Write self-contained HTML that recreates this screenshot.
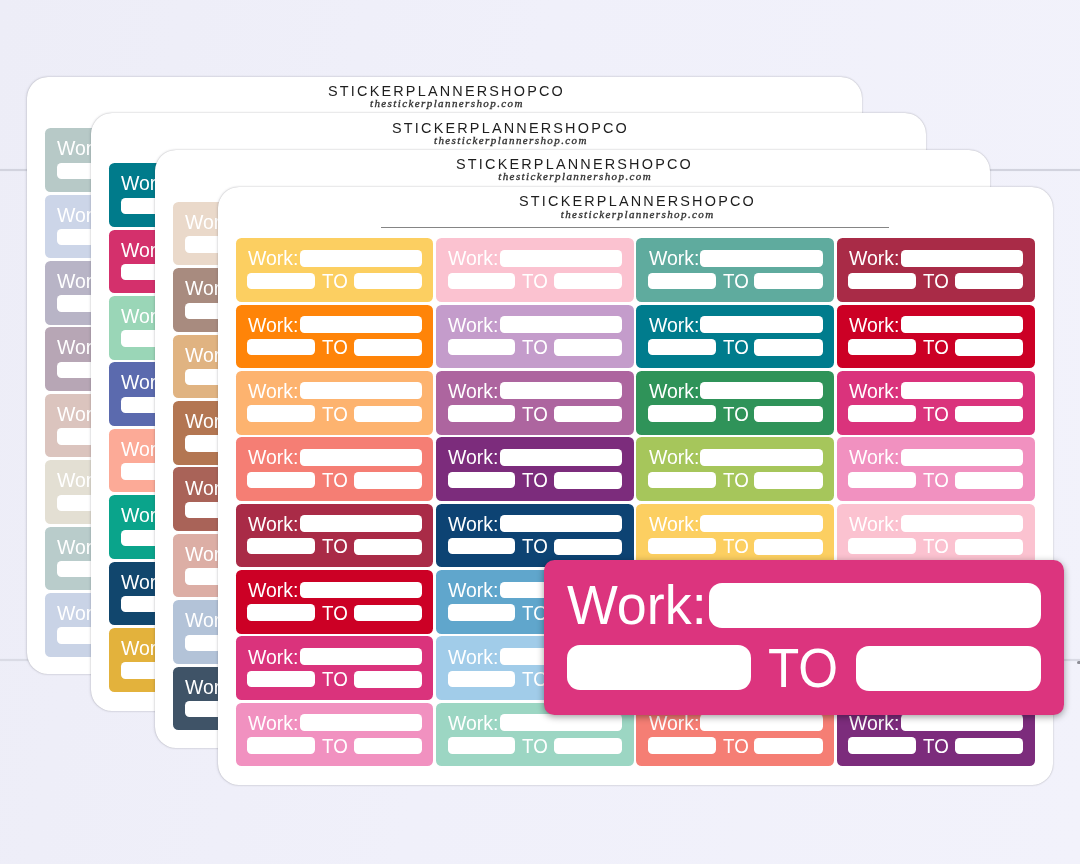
<!DOCTYPE html>
<html lang="en">
<head>
<meta charset="utf-8">
<title>Work Hours Planner Stickers - StickerPlannerShopCo</title>
<meta name="viewport" content="width=1080">
<style>
*{box-sizing:border-box;margin:0;padding:0}
html,body{width:1080px;height:864px;overflow:hidden;background:#f0f0fa}
body{font-family:"Liberation Sans",sans-serif}
.scene{position:relative;width:1080px;height:864px;overflow:hidden;background:linear-gradient(100deg,#ededf7 0%,#f0f0fa 45%,#f2f2fb 100%)}
.plank{position:absolute;left:0;width:1080px;height:2px;background:#d2d3de;box-shadow:0 0 1px #d8d9e3}
.p1{top:169px}.p2{top:659.3px;height:1.6px;background:#dadbe5}
.knot{position:absolute;left:1076.5px;top:661.3px;width:4px;height:3px;border-radius:1.5px 0 0 1.5px;background:#8d8d96;filter:blur(.6px)}
.sheet{position:absolute;width:835px;height:597.7px;border-radius:21px;background:#fff;
  box-shadow:0 0 1.5px rgba(70,70,78,.45), -1px 0 3px rgba(60,60,80,.07)}
.sheet header{position:absolute;left:0;top:0;width:100%;height:50px}
.sheet h1{position:absolute;left:2px;width:100%;top:5.3px;text-align:center;font-weight:400;
  font-size:15.2px;line-height:18px;letter-spacing:2.3px;color:#1e1e1e;transform:scaleX(.95);white-space:nowrap}
.sheet p{position:absolute;left:2.6px;width:100%;top:20.6px;text-align:center;
  font-family:"Liberation Serif",serif;font-style:italic;font-weight:400;-webkit-text-stroke:.35px #333;
  font-size:11px;line-height:12px;letter-spacing:1.4px;color:#333;white-space:nowrap}
.sheet hr{position:absolute;left:163.5px;width:507.5px;top:39.5px;height:1.2px;border:0;background:#858585}
.grid{position:absolute;left:0;top:0}
.st{position:absolute;width:197.8px;height:63.6px;border-radius:5.5px;color:#fff;background:var(--c)}
.st span{position:absolute;white-space:nowrap;line-height:24px;transform-origin:0 50%}
.st .w{left:12.2px;top:8.1px;font-size:20.3px;transform:scaleX(.96)}
.st .t{left:86.5px;top:30.7px;font-size:20.2px;transform:scaleX(.93)}
.st i{position:absolute;background:#fff;border-radius:4.5px;display:block}
.st .b1{left:64.1px;top:11.5px;width:122.1px;height:16.9px}
.st .b2{left:11.6px;top:34.4px;width:67.8px;height:16.4px}
.st .b3{left:118px;top:34.8px;width:68.2px;height:16.4px}
.zoom{position:absolute;left:544.2px;top:560px;width:520px;height:155.2px;border-radius:10.5px;background:#dc347e;color:#fff;
  box-shadow:0 2px 7px rgba(0,0,0,.38)}
.zoom span{position:absolute;white-space:nowrap;line-height:60px;transform-origin:0 50%}
.zoom .w{left:22.9px;top:14.7px;font-size:55.4px;transform:scaleX(.972)}
.zoom .t{left:224.3px;top:77.5px;font-size:55px;transform:scaleX(.93)}
.zoom i{position:absolute;background:#fff;border-radius:13px;display:block}
.zoom .b1{left:164.6px;top:22.8px;width:331.8px;height:45px}
.zoom .b2{left:22.4px;top:84.9px;width:184px;height:45.2px}
.zoom .b3{left:311.6px;top:86.3px;width:184.8px;height:45.2px}

</style>
</head>
<body>
<main class="scene">
<div class="plank p1"></div><div class="plank p2"></div><div class="knot"></div>
<section class="sheet s1" style="left:26.80px;top:76.70px">
<header><h1>STICKERPLANNERSHOPCO</h1><p>thestickerplannershop.com</p><hr></header>
<div class="grid">
<div class="st" style="left:18.20px;top:51.50px;--c:#b7c9c7"><span class="w">Work:</span><i class="b1"></i><i class="b2"></i><span class="t">TO</span><i class="b3"></i></div>
<div class="st" style="left:18.20px;top:117.89px;--c:#ccd5e8"><span class="w">Work:</span><i class="b1"></i><i class="b2"></i><span class="t">TO</span><i class="b3"></i></div>
<div class="st" style="left:18.20px;top:184.28px;--c:#b8b4c6"><span class="w">Work:</span><i class="b1"></i><i class="b2"></i><span class="t">TO</span><i class="b3"></i></div>
<div class="st" style="left:18.20px;top:250.67px;--c:#b7a6b5"><span class="w">Work:</span><i class="b1"></i><i class="b2"></i><span class="t">TO</span><i class="b3"></i></div>
<div class="st" style="left:18.20px;top:317.06px;--c:#dbc4be"><span class="w">Work:</span><i class="b1"></i><i class="b2"></i><span class="t">TO</span><i class="b3"></i></div>
<div class="st" style="left:18.20px;top:383.45px;--c:#e3dfd3"><span class="w">Work:</span><i class="b1"></i><i class="b2"></i><span class="t">TO</span><i class="b3"></i></div>
<div class="st" style="left:18.20px;top:449.84px;--c:#b9cccb"><span class="w">Work:</span><i class="b1"></i><i class="b2"></i><span class="t">TO</span><i class="b3"></i></div>
<div class="st" style="left:18.20px;top:516.23px;--c:#c9d3e6"><span class="w">Work:</span><i class="b1"></i><i class="b2"></i><span class="t">TO</span><i class="b3"></i></div>
<div class="st" style="left:218.60px;top:51.50px;--c:#b7c9c7"><span class="w">Work:</span><i class="b1"></i><i class="b2"></i><span class="t">TO</span><i class="b3"></i></div>
<div class="st" style="left:218.60px;top:117.89px;--c:#ccd5e8"><span class="w">Work:</span><i class="b1"></i><i class="b2"></i><span class="t">TO</span><i class="b3"></i></div>
<div class="st" style="left:218.60px;top:184.28px;--c:#b8b4c6"><span class="w">Work:</span><i class="b1"></i><i class="b2"></i><span class="t">TO</span><i class="b3"></i></div>
<div class="st" style="left:218.60px;top:250.67px;--c:#b7a6b5"><span class="w">Work:</span><i class="b1"></i><i class="b2"></i><span class="t">TO</span><i class="b3"></i></div>
<div class="st" style="left:218.60px;top:317.06px;--c:#dbc4be"><span class="w">Work:</span><i class="b1"></i><i class="b2"></i><span class="t">TO</span><i class="b3"></i></div>
<div class="st" style="left:218.60px;top:383.45px;--c:#e3dfd3"><span class="w">Work:</span><i class="b1"></i><i class="b2"></i><span class="t">TO</span><i class="b3"></i></div>
<div class="st" style="left:218.60px;top:449.84px;--c:#b9cccb"><span class="w">Work:</span><i class="b1"></i><i class="b2"></i><span class="t">TO</span><i class="b3"></i></div>
<div class="st" style="left:218.60px;top:516.23px;--c:#c9d3e6"><span class="w">Work:</span><i class="b1"></i><i class="b2"></i><span class="t">TO</span><i class="b3"></i></div>
<div class="st" style="left:419.00px;top:51.50px;--c:#b7c9c7"><span class="w">Work:</span><i class="b1"></i><i class="b2"></i><span class="t">TO</span><i class="b3"></i></div>
<div class="st" style="left:419.00px;top:117.89px;--c:#ccd5e8"><span class="w">Work:</span><i class="b1"></i><i class="b2"></i><span class="t">TO</span><i class="b3"></i></div>
<div class="st" style="left:419.00px;top:184.28px;--c:#b8b4c6"><span class="w">Work:</span><i class="b1"></i><i class="b2"></i><span class="t">TO</span><i class="b3"></i></div>
<div class="st" style="left:419.00px;top:250.67px;--c:#b7a6b5"><span class="w">Work:</span><i class="b1"></i><i class="b2"></i><span class="t">TO</span><i class="b3"></i></div>
<div class="st" style="left:419.00px;top:317.06px;--c:#dbc4be"><span class="w">Work:</span><i class="b1"></i><i class="b2"></i><span class="t">TO</span><i class="b3"></i></div>
<div class="st" style="left:419.00px;top:383.45px;--c:#e3dfd3"><span class="w">Work:</span><i class="b1"></i><i class="b2"></i><span class="t">TO</span><i class="b3"></i></div>
<div class="st" style="left:419.00px;top:449.84px;--c:#b9cccb"><span class="w">Work:</span><i class="b1"></i><i class="b2"></i><span class="t">TO</span><i class="b3"></i></div>
<div class="st" style="left:419.00px;top:516.23px;--c:#c9d3e6"><span class="w">Work:</span><i class="b1"></i><i class="b2"></i><span class="t">TO</span><i class="b3"></i></div>
<div class="st" style="left:619.40px;top:51.50px;--c:#b7c9c7"><span class="w">Work:</span><i class="b1"></i><i class="b2"></i><span class="t">TO</span><i class="b3"></i></div>
<div class="st" style="left:619.40px;top:117.89px;--c:#ccd5e8"><span class="w">Work:</span><i class="b1"></i><i class="b2"></i><span class="t">TO</span><i class="b3"></i></div>
<div class="st" style="left:619.40px;top:184.28px;--c:#b8b4c6"><span class="w">Work:</span><i class="b1"></i><i class="b2"></i><span class="t">TO</span><i class="b3"></i></div>
<div class="st" style="left:619.40px;top:250.67px;--c:#b7a6b5"><span class="w">Work:</span><i class="b1"></i><i class="b2"></i><span class="t">TO</span><i class="b3"></i></div>
<div class="st" style="left:619.40px;top:317.06px;--c:#dbc4be"><span class="w">Work:</span><i class="b1"></i><i class="b2"></i><span class="t">TO</span><i class="b3"></i></div>
<div class="st" style="left:619.40px;top:383.45px;--c:#e3dfd3"><span class="w">Work:</span><i class="b1"></i><i class="b2"></i><span class="t">TO</span><i class="b3"></i></div>
<div class="st" style="left:619.40px;top:449.84px;--c:#b9cccb"><span class="w">Work:</span><i class="b1"></i><i class="b2"></i><span class="t">TO</span><i class="b3"></i></div>
<div class="st" style="left:619.40px;top:516.23px;--c:#c9d3e6"><span class="w">Work:</span><i class="b1"></i><i class="b2"></i><span class="t">TO</span><i class="b3"></i></div>
</div></section>
<section class="sheet s2" style="left:90.80px;top:113.30px">
<header><h1>STICKERPLANNERSHOPCO</h1><p>thestickerplannershop.com</p><hr></header>
<div class="grid">
<div class="st" style="left:18.30px;top:49.90px;--c:#007b8b"><span class="w">Work:</span><i class="b1"></i><i class="b2"></i><span class="t">TO</span><i class="b3"></i></div>
<div class="st" style="left:18.30px;top:116.29px;--c:#d4306c"><span class="w">Work:</span><i class="b1"></i><i class="b2"></i><span class="t">TO</span><i class="b3"></i></div>
<div class="st" style="left:18.30px;top:182.68px;--c:#9ad6b7"><span class="w">Work:</span><i class="b1"></i><i class="b2"></i><span class="t">TO</span><i class="b3"></i></div>
<div class="st" style="left:18.30px;top:249.07px;--c:#5b6aae"><span class="w">Work:</span><i class="b1"></i><i class="b2"></i><span class="t">TO</span><i class="b3"></i></div>
<div class="st" style="left:18.30px;top:315.46px;--c:#fcaa97"><span class="w">Work:</span><i class="b1"></i><i class="b2"></i><span class="t">TO</span><i class="b3"></i></div>
<div class="st" style="left:18.30px;top:381.85px;--c:#0aa48b"><span class="w">Work:</span><i class="b1"></i><i class="b2"></i><span class="t">TO</span><i class="b3"></i></div>
<div class="st" style="left:18.30px;top:448.24px;--c:#11466d"><span class="w">Work:</span><i class="b1"></i><i class="b2"></i><span class="t">TO</span><i class="b3"></i></div>
<div class="st" style="left:18.30px;top:514.63px;--c:#e3b23c"><span class="w">Work:</span><i class="b1"></i><i class="b2"></i><span class="t">TO</span><i class="b3"></i></div>
<div class="st" style="left:218.70px;top:49.90px;--c:#007b8b"><span class="w">Work:</span><i class="b1"></i><i class="b2"></i><span class="t">TO</span><i class="b3"></i></div>
<div class="st" style="left:218.70px;top:116.29px;--c:#d4306c"><span class="w">Work:</span><i class="b1"></i><i class="b2"></i><span class="t">TO</span><i class="b3"></i></div>
<div class="st" style="left:218.70px;top:182.68px;--c:#9ad6b7"><span class="w">Work:</span><i class="b1"></i><i class="b2"></i><span class="t">TO</span><i class="b3"></i></div>
<div class="st" style="left:218.70px;top:249.07px;--c:#5b6aae"><span class="w">Work:</span><i class="b1"></i><i class="b2"></i><span class="t">TO</span><i class="b3"></i></div>
<div class="st" style="left:218.70px;top:315.46px;--c:#fcaa97"><span class="w">Work:</span><i class="b1"></i><i class="b2"></i><span class="t">TO</span><i class="b3"></i></div>
<div class="st" style="left:218.70px;top:381.85px;--c:#0aa48b"><span class="w">Work:</span><i class="b1"></i><i class="b2"></i><span class="t">TO</span><i class="b3"></i></div>
<div class="st" style="left:218.70px;top:448.24px;--c:#11466d"><span class="w">Work:</span><i class="b1"></i><i class="b2"></i><span class="t">TO</span><i class="b3"></i></div>
<div class="st" style="left:218.70px;top:514.63px;--c:#e3b23c"><span class="w">Work:</span><i class="b1"></i><i class="b2"></i><span class="t">TO</span><i class="b3"></i></div>
<div class="st" style="left:419.10px;top:49.90px;--c:#007b8b"><span class="w">Work:</span><i class="b1"></i><i class="b2"></i><span class="t">TO</span><i class="b3"></i></div>
<div class="st" style="left:419.10px;top:116.29px;--c:#d4306c"><span class="w">Work:</span><i class="b1"></i><i class="b2"></i><span class="t">TO</span><i class="b3"></i></div>
<div class="st" style="left:419.10px;top:182.68px;--c:#9ad6b7"><span class="w">Work:</span><i class="b1"></i><i class="b2"></i><span class="t">TO</span><i class="b3"></i></div>
<div class="st" style="left:419.10px;top:249.07px;--c:#5b6aae"><span class="w">Work:</span><i class="b1"></i><i class="b2"></i><span class="t">TO</span><i class="b3"></i></div>
<div class="st" style="left:419.10px;top:315.46px;--c:#fcaa97"><span class="w">Work:</span><i class="b1"></i><i class="b2"></i><span class="t">TO</span><i class="b3"></i></div>
<div class="st" style="left:419.10px;top:381.85px;--c:#0aa48b"><span class="w">Work:</span><i class="b1"></i><i class="b2"></i><span class="t">TO</span><i class="b3"></i></div>
<div class="st" style="left:419.10px;top:448.24px;--c:#11466d"><span class="w">Work:</span><i class="b1"></i><i class="b2"></i><span class="t">TO</span><i class="b3"></i></div>
<div class="st" style="left:419.10px;top:514.63px;--c:#e3b23c"><span class="w">Work:</span><i class="b1"></i><i class="b2"></i><span class="t">TO</span><i class="b3"></i></div>
<div class="st" style="left:619.50px;top:49.90px;--c:#007b8b"><span class="w">Work:</span><i class="b1"></i><i class="b2"></i><span class="t">TO</span><i class="b3"></i></div>
<div class="st" style="left:619.50px;top:116.29px;--c:#d4306c"><span class="w">Work:</span><i class="b1"></i><i class="b2"></i><span class="t">TO</span><i class="b3"></i></div>
<div class="st" style="left:619.50px;top:182.68px;--c:#9ad6b7"><span class="w">Work:</span><i class="b1"></i><i class="b2"></i><span class="t">TO</span><i class="b3"></i></div>
<div class="st" style="left:619.50px;top:249.07px;--c:#5b6aae"><span class="w">Work:</span><i class="b1"></i><i class="b2"></i><span class="t">TO</span><i class="b3"></i></div>
<div class="st" style="left:619.50px;top:315.46px;--c:#fcaa97"><span class="w">Work:</span><i class="b1"></i><i class="b2"></i><span class="t">TO</span><i class="b3"></i></div>
<div class="st" style="left:619.50px;top:381.85px;--c:#0aa48b"><span class="w">Work:</span><i class="b1"></i><i class="b2"></i><span class="t">TO</span><i class="b3"></i></div>
<div class="st" style="left:619.50px;top:448.24px;--c:#11466d"><span class="w">Work:</span><i class="b1"></i><i class="b2"></i><span class="t">TO</span><i class="b3"></i></div>
<div class="st" style="left:619.50px;top:514.63px;--c:#e3b23c"><span class="w">Work:</span><i class="b1"></i><i class="b2"></i><span class="t">TO</span><i class="b3"></i></div>
</div></section>
<section class="sheet s3" style="left:155.10px;top:149.90px">
<header><h1>STICKERPLANNERSHOPCO</h1><p>thestickerplannershop.com</p><hr></header>
<div class="grid">
<div class="st" style="left:17.90px;top:52.00px;--c:#ead9ca"><span class="w">Work:</span><i class="b1"></i><i class="b2"></i><span class="t">TO</span><i class="b3"></i></div>
<div class="st" style="left:17.90px;top:118.39px;--c:#a88b7f"><span class="w">Work:</span><i class="b1"></i><i class="b2"></i><span class="t">TO</span><i class="b3"></i></div>
<div class="st" style="left:17.90px;top:184.78px;--c:#e0b381"><span class="w">Work:</span><i class="b1"></i><i class="b2"></i><span class="t">TO</span><i class="b3"></i></div>
<div class="st" style="left:17.90px;top:251.17px;--c:#b37652"><span class="w">Work:</span><i class="b1"></i><i class="b2"></i><span class="t">TO</span><i class="b3"></i></div>
<div class="st" style="left:17.90px;top:317.56px;--c:#a96358"><span class="w">Work:</span><i class="b1"></i><i class="b2"></i><span class="t">TO</span><i class="b3"></i></div>
<div class="st" style="left:17.90px;top:383.95px;--c:#dcaea5"><span class="w">Work:</span><i class="b1"></i><i class="b2"></i><span class="t">TO</span><i class="b3"></i></div>
<div class="st" style="left:17.90px;top:450.34px;--c:#b3c3d8"><span class="w">Work:</span><i class="b1"></i><i class="b2"></i><span class="t">TO</span><i class="b3"></i></div>
<div class="st" style="left:17.90px;top:516.73px;--c:#3f5367"><span class="w">Work:</span><i class="b1"></i><i class="b2"></i><span class="t">TO</span><i class="b3"></i></div>
<div class="st" style="left:218.30px;top:52.00px;--c:#ead9ca"><span class="w">Work:</span><i class="b1"></i><i class="b2"></i><span class="t">TO</span><i class="b3"></i></div>
<div class="st" style="left:218.30px;top:118.39px;--c:#a88b7f"><span class="w">Work:</span><i class="b1"></i><i class="b2"></i><span class="t">TO</span><i class="b3"></i></div>
<div class="st" style="left:218.30px;top:184.78px;--c:#e0b381"><span class="w">Work:</span><i class="b1"></i><i class="b2"></i><span class="t">TO</span><i class="b3"></i></div>
<div class="st" style="left:218.30px;top:251.17px;--c:#b37652"><span class="w">Work:</span><i class="b1"></i><i class="b2"></i><span class="t">TO</span><i class="b3"></i></div>
<div class="st" style="left:218.30px;top:317.56px;--c:#a96358"><span class="w">Work:</span><i class="b1"></i><i class="b2"></i><span class="t">TO</span><i class="b3"></i></div>
<div class="st" style="left:218.30px;top:383.95px;--c:#dcaea5"><span class="w">Work:</span><i class="b1"></i><i class="b2"></i><span class="t">TO</span><i class="b3"></i></div>
<div class="st" style="left:218.30px;top:450.34px;--c:#b3c3d8"><span class="w">Work:</span><i class="b1"></i><i class="b2"></i><span class="t">TO</span><i class="b3"></i></div>
<div class="st" style="left:218.30px;top:516.73px;--c:#3f5367"><span class="w">Work:</span><i class="b1"></i><i class="b2"></i><span class="t">TO</span><i class="b3"></i></div>
<div class="st" style="left:418.70px;top:52.00px;--c:#ead9ca"><span class="w">Work:</span><i class="b1"></i><i class="b2"></i><span class="t">TO</span><i class="b3"></i></div>
<div class="st" style="left:418.70px;top:118.39px;--c:#a88b7f"><span class="w">Work:</span><i class="b1"></i><i class="b2"></i><span class="t">TO</span><i class="b3"></i></div>
<div class="st" style="left:418.70px;top:184.78px;--c:#e0b381"><span class="w">Work:</span><i class="b1"></i><i class="b2"></i><span class="t">TO</span><i class="b3"></i></div>
<div class="st" style="left:418.70px;top:251.17px;--c:#b37652"><span class="w">Work:</span><i class="b1"></i><i class="b2"></i><span class="t">TO</span><i class="b3"></i></div>
<div class="st" style="left:418.70px;top:317.56px;--c:#a96358"><span class="w">Work:</span><i class="b1"></i><i class="b2"></i><span class="t">TO</span><i class="b3"></i></div>
<div class="st" style="left:418.70px;top:383.95px;--c:#dcaea5"><span class="w">Work:</span><i class="b1"></i><i class="b2"></i><span class="t">TO</span><i class="b3"></i></div>
<div class="st" style="left:418.70px;top:450.34px;--c:#b3c3d8"><span class="w">Work:</span><i class="b1"></i><i class="b2"></i><span class="t">TO</span><i class="b3"></i></div>
<div class="st" style="left:418.70px;top:516.73px;--c:#3f5367"><span class="w">Work:</span><i class="b1"></i><i class="b2"></i><span class="t">TO</span><i class="b3"></i></div>
<div class="st" style="left:619.10px;top:52.00px;--c:#ead9ca"><span class="w">Work:</span><i class="b1"></i><i class="b2"></i><span class="t">TO</span><i class="b3"></i></div>
<div class="st" style="left:619.10px;top:118.39px;--c:#a88b7f"><span class="w">Work:</span><i class="b1"></i><i class="b2"></i><span class="t">TO</span><i class="b3"></i></div>
<div class="st" style="left:619.10px;top:184.78px;--c:#e0b381"><span class="w">Work:</span><i class="b1"></i><i class="b2"></i><span class="t">TO</span><i class="b3"></i></div>
<div class="st" style="left:619.10px;top:251.17px;--c:#b37652"><span class="w">Work:</span><i class="b1"></i><i class="b2"></i><span class="t">TO</span><i class="b3"></i></div>
<div class="st" style="left:619.10px;top:317.56px;--c:#a96358"><span class="w">Work:</span><i class="b1"></i><i class="b2"></i><span class="t">TO</span><i class="b3"></i></div>
<div class="st" style="left:619.10px;top:383.95px;--c:#dcaea5"><span class="w">Work:</span><i class="b1"></i><i class="b2"></i><span class="t">TO</span><i class="b3"></i></div>
<div class="st" style="left:619.10px;top:450.34px;--c:#b3c3d8"><span class="w">Work:</span><i class="b1"></i><i class="b2"></i><span class="t">TO</span><i class="b3"></i></div>
<div class="st" style="left:619.10px;top:516.73px;--c:#3f5367"><span class="w">Work:</span><i class="b1"></i><i class="b2"></i><span class="t">TO</span><i class="b3"></i></div>
</div></section>
<section class="sheet s4" style="left:217.60px;top:187.00px">
<header><h1>STICKERPLANNERSHOPCO</h1><p>thestickerplannershop.com</p><hr></header>
<div class="grid">
<div class="st" style="left:18.00px;top:51.15px;--c:#fccf61"><span class="w">Work:</span><i class="b1"></i><i class="b2"></i><span class="t">TO</span><i class="b3"></i></div>
<div class="st" style="left:18.00px;top:117.54px;--c:#ff8408"><span class="w">Work:</span><i class="b1"></i><i class="b2"></i><span class="t">TO</span><i class="b3"></i></div>
<div class="st" style="left:18.00px;top:183.93px;--c:#fdb36f"><span class="w">Work:</span><i class="b1"></i><i class="b2"></i><span class="t">TO</span><i class="b3"></i></div>
<div class="st" style="left:18.00px;top:250.32px;--c:#f57e74"><span class="w">Work:</span><i class="b1"></i><i class="b2"></i><span class="t">TO</span><i class="b3"></i></div>
<div class="st" style="left:18.00px;top:316.71px;--c:#a92b47"><span class="w">Work:</span><i class="b1"></i><i class="b2"></i><span class="t">TO</span><i class="b3"></i></div>
<div class="st" style="left:18.00px;top:383.10px;--c:#cc0025"><span class="w">Work:</span><i class="b1"></i><i class="b2"></i><span class="t">TO</span><i class="b3"></i></div>
<div class="st" style="left:18.00px;top:449.49px;--c:#da337c"><span class="w">Work:</span><i class="b1"></i><i class="b2"></i><span class="t">TO</span><i class="b3"></i></div>
<div class="st" style="left:18.00px;top:515.88px;--c:#f191c0"><span class="w">Work:</span><i class="b1"></i><i class="b2"></i><span class="t">TO</span><i class="b3"></i></div>
<div class="st" style="left:218.40px;top:51.15px;--c:#fbc2d0"><span class="w">Work:</span><i class="b1"></i><i class="b2"></i><span class="t">TO</span><i class="b3"></i></div>
<div class="st" style="left:218.40px;top:117.54px;--c:#c49ccb"><span class="w">Work:</span><i class="b1"></i><i class="b2"></i><span class="t">TO</span><i class="b3"></i></div>
<div class="st" style="left:218.40px;top:183.93px;--c:#ad659f"><span class="w">Work:</span><i class="b1"></i><i class="b2"></i><span class="t">TO</span><i class="b3"></i></div>
<div class="st" style="left:218.40px;top:250.32px;--c:#7c2c7c"><span class="w">Work:</span><i class="b1"></i><i class="b2"></i><span class="t">TO</span><i class="b3"></i></div>
<div class="st" style="left:218.40px;top:316.71px;--c:#0d4373"><span class="w">Work:</span><i class="b1"></i><i class="b2"></i><span class="t">TO</span><i class="b3"></i></div>
<div class="st" style="left:218.40px;top:383.10px;--c:#60a6cc"><span class="w">Work:</span><i class="b1"></i><i class="b2"></i><span class="t">TO</span><i class="b3"></i></div>
<div class="st" style="left:218.40px;top:449.49px;--c:#a1cce9"><span class="w">Work:</span><i class="b1"></i><i class="b2"></i><span class="t">TO</span><i class="b3"></i></div>
<div class="st" style="left:218.40px;top:515.88px;--c:#9cd6c3"><span class="w">Work:</span><i class="b1"></i><i class="b2"></i><span class="t">TO</span><i class="b3"></i></div>
<div class="st" style="left:418.80px;top:51.15px;--c:#5fab9e"><span class="w">Work:</span><i class="b1"></i><i class="b2"></i><span class="t">TO</span><i class="b3"></i></div>
<div class="st" style="left:418.80px;top:117.54px;--c:#007c8d"><span class="w">Work:</span><i class="b1"></i><i class="b2"></i><span class="t">TO</span><i class="b3"></i></div>
<div class="st" style="left:418.80px;top:183.93px;--c:#2f9359"><span class="w">Work:</span><i class="b1"></i><i class="b2"></i><span class="t">TO</span><i class="b3"></i></div>
<div class="st" style="left:418.80px;top:250.32px;--c:#a6c65b"><span class="w">Work:</span><i class="b1"></i><i class="b2"></i><span class="t">TO</span><i class="b3"></i></div>
<div class="st" style="left:418.80px;top:316.71px;--c:#fccf61"><span class="w">Work:</span><i class="b1"></i><i class="b2"></i><span class="t">TO</span><i class="b3"></i></div>
<div class="st" style="left:418.80px;top:383.10px;--c:#ff8408"><span class="w">Work:</span><i class="b1"></i><i class="b2"></i><span class="t">TO</span><i class="b3"></i></div>
<div class="st" style="left:418.80px;top:449.49px;--c:#fdb36f"><span class="w">Work:</span><i class="b1"></i><i class="b2"></i><span class="t">TO</span><i class="b3"></i></div>
<div class="st" style="left:418.80px;top:515.88px;--c:#f57e74"><span class="w">Work:</span><i class="b1"></i><i class="b2"></i><span class="t">TO</span><i class="b3"></i></div>
<div class="st" style="left:619.20px;top:51.15px;--c:#a92b47"><span class="w">Work:</span><i class="b1"></i><i class="b2"></i><span class="t">TO</span><i class="b3"></i></div>
<div class="st" style="left:619.20px;top:117.54px;--c:#cc0025"><span class="w">Work:</span><i class="b1"></i><i class="b2"></i><span class="t">TO</span><i class="b3"></i></div>
<div class="st" style="left:619.20px;top:183.93px;--c:#da337c"><span class="w">Work:</span><i class="b1"></i><i class="b2"></i><span class="t">TO</span><i class="b3"></i></div>
<div class="st" style="left:619.20px;top:250.32px;--c:#f191c0"><span class="w">Work:</span><i class="b1"></i><i class="b2"></i><span class="t">TO</span><i class="b3"></i></div>
<div class="st" style="left:619.20px;top:316.71px;--c:#fbc2d0"><span class="w">Work:</span><i class="b1"></i><i class="b2"></i><span class="t">TO</span><i class="b3"></i></div>
<div class="st" style="left:619.20px;top:383.10px;--c:#c49ccb"><span class="w">Work:</span><i class="b1"></i><i class="b2"></i><span class="t">TO</span><i class="b3"></i></div>
<div class="st" style="left:619.20px;top:449.49px;--c:#ad659f"><span class="w">Work:</span><i class="b1"></i><i class="b2"></i><span class="t">TO</span><i class="b3"></i></div>
<div class="st" style="left:619.20px;top:515.88px;--c:#7c2c7c"><span class="w">Work:</span><i class="b1"></i><i class="b2"></i><span class="t">TO</span><i class="b3"></i></div>
</div></section>
<div class="zoom">
<span class="w">Work:</span><i class="b1"></i><i class="b2"></i><span class="t">TO</span><i class="b3"></i>
</div>
</main>
</body>
</html>
